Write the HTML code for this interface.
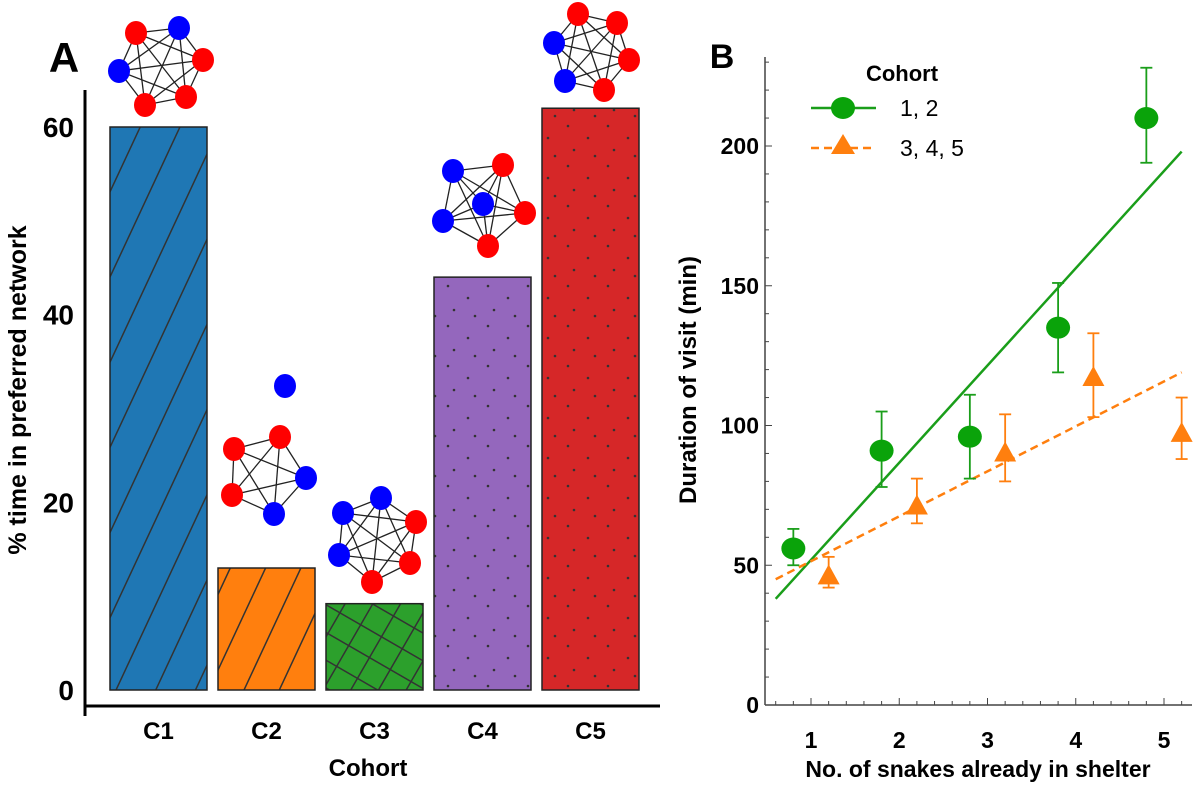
<!DOCTYPE html>
<html><head><meta charset="utf-8"><style>
body{margin:0;background:#fff;}
svg{display:block;font-family:"Liberation Sans",sans-serif;}
</style></head><body>
<svg width="1200" height="785" viewBox="0 0 1200 785" xmlns="http://www.w3.org/2000/svg">
<defs>
<pattern id="hatch1" patternUnits="userSpaceOnUse" width="36" height="36" patternTransform="rotate(25)"><rect width="36" height="36" fill="#1f77b4"/><line x1="0" y1="0" x2="0" y2="36" stroke="#333" stroke-width="3"/></pattern>
<pattern id="hatch2" patternUnits="userSpaceOnUse" width="32" height="32" patternTransform="rotate(25)"><rect width="32" height="32" fill="#ff7f0e"/><line x1="0" y1="0" x2="0" y2="32" stroke="#333" stroke-width="3"/></pattern>
<pattern id="cross" patternUnits="userSpaceOnUse" width="24" height="24" patternTransform="rotate(30)"><rect width="24" height="24" fill="#2ca02c"/><line x1="0" y1="0" x2="0" y2="24" stroke="#333" stroke-width="3"/><line x1="0" y1="0" x2="24" y2="0" stroke="#333" stroke-width="3"/></pattern>
<pattern id="dots4" patternUnits="userSpaceOnUse" width="40" height="40"><rect width="40" height="40" fill="#9467bd"/><circle cx="8" cy="6" r="1.3" fill="#333"/><circle cx="28" cy="18" r="1.3" fill="#333"/><circle cx="14" cy="30" r="1.3" fill="#333"/><circle cx="35" cy="36" r="1.3" fill="#333"/></pattern>
<pattern id="dots5" patternUnits="userSpaceOnUse" width="40" height="40"><rect width="40" height="40" fill="#d62728"/><circle cx="8" cy="6" r="1.3" fill="#333"/><circle cx="28" cy="18" r="1.3" fill="#333"/><circle cx="14" cy="30" r="1.3" fill="#333"/><circle cx="35" cy="36" r="1.3" fill="#333"/></pattern>
</defs>
<g id="panelA"></g>
<g id="panelB"></g>
</svg>
<script>
const NS="http://www.w3.org/2000/svg";
// Panel A data
const cohorts=["C1","C2","C3","C4","C5"];
const pctTime=[60,13,9.2,44,62];
const aTicks=[0,20,40,60];
// Panel B data
const xTicksB=[1,2,3,4,5];
const yTicksB=[0,50,100,150,200];
const gX=[0.8,1.8,2.8,3.8,4.8];
const gY=[56,91,96,135,210];
const gLo=[50,78,81,119,194];
const gHi=[63,105,111,151,228];
const oX=[1.2,2.2,3.2,4.2,5.2];
const oY=[46,71,90,117,97];
const oLo=[42,65,80,103,88];
const oHi=[53,81,104,133,110];
const gFit=[[0.6,38],[5.2,198]];
const oFit=[[0.6,45],[5.2,119]];

function mk(parent,tag,attrs,text){const e=document.createElementNS(NS,tag);for(const k in attrs)e.setAttribute(k,attrs[k]);if(text!==undefined)e.textContent=text;parent.appendChild(e);return e;}

// ---------- Panel A ----------
const A=document.getElementById('panelA');
const ay=v=>690-v*(690-127)/60;
const barX=i=>110+i*108, barW=97;
const fills=["url(#hatch1)","url(#hatch2)","url(#cross)","url(#dots4)","url(#dots5)"];
let t=mk(A,'text',{x:64,y:72,'font-size':42,'font-weight':'bold','text-anchor':'middle'},'A');

let l=mk(A,'line',{x1:85,y1:90,x2:85,y2:716,stroke:'#000','stroke-width':3});

l=mk(A,'line',{x1:84,y1:706,x2:660,y2:706,stroke:'#000','stroke-width':3});

aTicks.forEach(v=>{const e=mk(A,'text',{x:74,y:ay(v)+10,'font-size':28,'font-weight':'bold','text-anchor':'end'},String(v));
});
t=mk(A,'text',{x:0,y:0,'font-size':25,'font-weight':'bold','text-anchor':'middle',transform:'translate(26,390) rotate(-90)'},'% time in preferred network');

pctTime.forEach((v,i)=>{const r=mk(A,'rect',{x:barX(i),y:ay(v),width:barW,height:ay(0)-ay(v),fill:fills[i],stroke:'#222','stroke-width':1.5});

const e=mk(A,'text',{x:barX(i)+barW/2,y:739,'font-size':24,'font-weight':'bold','text-anchor':'middle'},cohorts[i]);
});
t=mk(A,'text',{x:368,y:776,'font-size':24,'font-weight':'bold','text-anchor':'middle'},'Cohort');


const R='#ff0000',B='#0000ff';
const nets=[
 {n:[[136,33,R],[179,28,B],[203,60,R],[186,97,R],[145,105,R],[119,71,B]],iso:[]},
 {n:[[285,386,B],[280,437,R],[306,478,B],[274,514,B],[232,495,R],[234,449,R]],iso:[0]},
 {n:[[343,513,B],[381,498,B],[416,522,R],[410,563,R],[372,582,R],[339,555,B]],iso:[]},
 {n:[[453,171,B],[503,165,R],[525,213,R],[488,246,R],[443,221,B],[483,204,B]],iso:[]},
 {n:[[578,14,R],[617,23,R],[629,60,R],[604,90,R],[565,81,B],[554,43,B]],iso:[]}
];
nets.forEach((net,k)=>{const g=mk(A,'g',{});

for(let i=0;i<net.n.length;i++)for(let j=i+1;j<net.n.length;j++){if(net.iso.includes(i)||net.iso.includes(j))continue;
mk(g,'line',{x1:net.n[i][0],y1:net.n[i][1],x2:net.n[j][0],y2:net.n[j][1],stroke:'#222','stroke-width':1.3});}
net.n.forEach(p=>{const c=mk(g,'ellipse',{cx:p[0],cy:p[1],rx:11,ry:12,fill:p[2]});
});});

// ---------- Panel B ----------
const P=document.getElementById('panelB');
const bx=v=>811+(v-1)*88.25;
const by=v=>705-v*(705-146)/200;
t=mk(P,'text',{x:722,y:68,'font-size':34,'font-weight':'bold','text-anchor':'middle'},'B');

l=mk(P,'line',{x1:765,y1:57,x2:765,y2:705,stroke:'#444','stroke-width':1.5});

l=mk(P,'line',{x1:765,y1:705,x2:1192,y2:705,stroke:'#444','stroke-width':1.5});

for(let v=0;v<=230;v+=10){if(by(v)<57)break;mk(P,'line',{x1:765,y1:by(v),x2:v%50===0?772:769,y2:by(v),stroke:'#444','stroke-width':1});}
for(let v=0.6;v<=5.35;v+=0.2){mk(P,'line',{x1:bx(v),y1:705,x2:bx(v),y2:Math.abs(v-Math.round(v))<0.01?698:701,stroke:'#444','stroke-width':1});}
yTicksB.forEach(v=>{const e=mk(P,'text',{x:759,y:by(v)+8,'font-size':23,'font-weight':'bold','text-anchor':'end'},String(v));
});
xTicksB.forEach(v=>{const e=mk(P,'text',{x:bx(v),y:748,'font-size':23,'font-weight':'bold','text-anchor':'middle'},String(v));
});
t=mk(P,'text',{x:978,y:777,'font-size':23,'font-weight':'bold','text-anchor':'middle'},'No. of snakes already in shelter');

t=mk(P,'text',{x:0,y:0,'font-size':24,'font-weight':'bold','text-anchor':'middle',transform:'translate(696,380) rotate(-90)'},'Duration of visit (min)');


l=mk(P,'line',{x1:bx(gFit[0][0]),y1:by(gFit[0][1]),x2:bx(gFit[1][0]),y2:by(gFit[1][1]),stroke:'#1a9e1a','stroke-width':2.5});

l=mk(P,'line',{x1:bx(oFit[0][0]),y1:by(oFit[0][1]),x2:bx(oFit[1][0]),y2:by(oFit[1][1]),stroke:'#ff7f0e','stroke-width':2.5,'stroke-dasharray':'8,5'});


function errbar(x,lo,hi,col){const g=mk(P,'g',{stroke:col,'stroke-width':1.8});

mk(g,'line',{x1:bx(x),y1:by(lo),x2:bx(x),y2:by(hi)});
mk(g,'line',{x1:bx(x)-6,y1:by(lo),x2:bx(x)+6,y2:by(lo)});
mk(g,'line',{x1:bx(x)-6,y1:by(hi),x2:bx(x)+6,y2:by(hi)});}
gX.forEach((x,i)=>{errbar(x,gLo[i],gHi[i],'#1a9e1a');
const c=mk(P,'ellipse',{cx:bx(x),cy:by(gY[i]),rx:12,ry:11,fill:'#0aa30a'});
});
oX.forEach((x,i)=>{errbar(x,oLo[i],oHi[i],'#ff7f0e');
const cx=bx(x),cy=by(oY[i]);
const p=mk(P,'polygon',{points:`${cx},${cy-12} ${cx+11},${cy+8} ${cx-11},${cy+8}`,fill:'#ff7f0e'});
});

// legend
const lg=mk(P,'g',{});

mk(lg,'text',{x:902,y:81,'font-size':22,'font-weight':'bold','text-anchor':'middle'},'Cohort');
let e=mk(lg,'g',{});

mk(e,'line',{x1:811,y1:108,x2:876,y2:108,stroke:'#1a9e1a','stroke-width':2.5});
mk(e,'ellipse',{cx:843,cy:108,rx:12,ry:11,fill:'#0aa30a'});
mk(e,'text',{x:900,y:116,'font-size':23},'1, 2');
e=mk(lg,'g',{});

mk(e,'line',{x1:811,y1:148,x2:876,y2:148,stroke:'#ff7f0e','stroke-width':2.5,'stroke-dasharray':'8,5'});
mk(e,'polygon',{points:'843,134 855,154 831,154',fill:'#ff7f0e'});
mk(e,'text',{x:900,y:156,'font-size':23},'3, 4, 5');
</script>
</body></html>
